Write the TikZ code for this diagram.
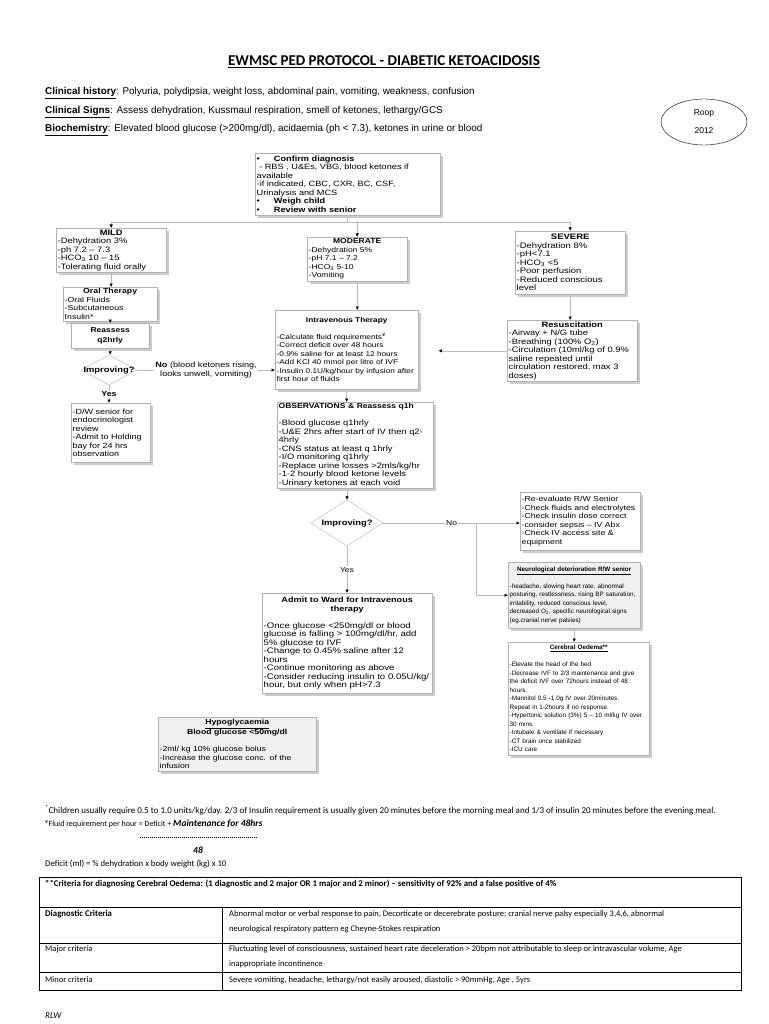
\documentclass[tikz,border=0pt]{standalone}
\usepackage{fontspec}
\setmainfont{Liberation Sans}
\newfontfamily\calfont{Carlito}
\newfontfamily\widesans[FakeStretch=1.2]{Liberation Sans}
\usetikzlibrary{arrows.meta,shapes.geometric,shadows,positioning,calc}
\newcommand{\fs}[1]{\fontsize{#1}{8.5}\selectfont}
\newcommand{\fw}[1]{\widesans\fontsize{#1}{8.5}\selectfont}
\newcommand{\hd}[1]{\makebox[\linewidth]{\textbf{#1}}}

\begin{document}
\begin{tikzpicture}[
    x=1pt, y=-1pt,
    box/.style={rectangle, draw=gray!60, fill=white, anchor=north west,
                drop shadow={shadow xshift=2.5pt, shadow yshift=-2.5pt,
                             fill=gray!40, opacity=1},
                align=left, inner xsep=1.5pt, inner ysep=1.5pt, font=\fw{7.5}},
    greybox/.style={box, fill=gray!12},
    decision/.style={diamond, draw=gray!60, fill=white, aspect=2, inner sep=0pt},
    dtext/.style={font=\fw{7.8}\bfseries, inner sep=0pt},
    line/.style={draw=gray!55, line width=0.6pt},
    arr/.style={line, -{Latex[length=3.5pt, width=3.5pt, color=black]}},
    lbl/.style={fill=white, inner sep=1pt, align=center, font=\fw{7.1}},
    hdr/.style={anchor=west, inner sep=0pt, font=\fontsize{9.9}{11}\selectfont},
    foot/.style={anchor=west, inner sep=0pt, font=\calfont\fontsize{8}{9}\selectfont},
    cell/.style={anchor=north west, inner sep=0pt, align=left,
                 font=\calfont\fontsize{8.5}{15.5}\selectfont}
]
\useasboundingbox (0,0) rectangle (768,1024);

    % Title and clinical summary
    \node[font=\calfont\bfseries\fontsize{15}{17}\selectfont] (title) at (384,62)
        {\underline{EWMSC PED PROTOCOL - DIABETIC KETOACIDOSIS}};
    \node[hdr] (hist) at (45,93) {\textbf{\underline{Clinical history}}: Polyuria, polydipsia, weight loss, abdominal pain, vomiting, weakness, confusion};
    \node[hdr] (signs) at (45,112) {\textbf{\underline{Clinical Signs}}: Assess dehydration, Kussmaul respiration, smell of ketones, lethargy/GCS};
    \node[hdr] (bio) at (45,130) {\textbf{\underline{Biochemistry}}: Elevated blood glucose (>200mg/dl), acidaemia (ph < 7.3), ketones in urine or blood};
    \node[draw, ellipse, minimum width=86pt, minimum height=46pt, align=center,
          font=\fontsize{8.5}{18}\selectfont] (roop) at (704,122) {Roop\\2012};

    % Confirm diagnosis
    \node[box, text width=182pt, minimum height=62pt, font=\fw{7.65}] (diag) at (255,153) {%
        \textbullet\hspace{14pt}\textbf{Confirm diagnosis}\\
        \ - RBS , U\&Es, VBG, blood ketones if\\
        available\\
        -if indicated, CBC, CXR, BC, CSF,\\
        Urinalysis and MCS\\
        \textbullet\hspace{14pt}\textbf{Weigh child}\\
        \textbullet\hspace{14pt}\textbf{Review with senior}};

    % Severity
    \node[box, text width=107pt, minimum height=43pt, font=\fw{7.8}] (mild) at (56,228) {%
        \hd{MILD}\\
        -Dehydration 3\%\\
        -ph 7.2 – 7.3\\
        -HCO\textsubscript{3} 10 – 15\\
        -Tolerating fluid orally};
    \node[box, text width=97pt, minimum height=44pt, font=\fw{7.1}] (mod) at (307,237) {%
        \hd{MODERATE}\\
        -Dehydration 5\%\\
        -pH 7.1 – 7.2\\
        -HCO\textsubscript{3} 5-10\\
        -Vomiting};
    \node[box, text width=107pt, minimum height=63pt, font=\fw{7.9}] (sev) at (515,231) {%
        \hd{SEVERE}\\
        -Dehydration 8\%\\
        -pH<7.1\\
        -HCO\textsubscript{3} <5\\
        -Poor perfusion\\
        -Reduced conscious\\
        level};

    % Mild pathway
    \node[box, text width=91pt, minimum height=33pt, font=\fw{7.3}] (oral) at (63,287) {%
        \hd{Oral Therapy}\\
        -Oral Fluids\\
        -Subcutaneous\\
        Insulin*};
    \node[box, text width=75pt, minimum height=25pt, font=\fw{7.1}] (reass) at (71,323) {%
        \hd{Reassess}\\[1.5pt]
        \hd{q2hrly}};
    \node[decision, minimum width=56pt, minimum height=30pt,
          label={[dtext]center:Improving?}] (imp1) at (109,370) {};
    \node[box, text width=76pt, minimum height=59pt, font=\fw{7.5}] (dw) at (71,403) {%
        -D/W senior for\\
        endocrinologist\\
        review\\
        -Admit to Holding\\
        bay for 24 hrs\\
        observation};

    % Intravenous pathway
    \node[box, text width=140pt, minimum height=79pt, font=\fw{6.9}] (iv) at (275,310) {%
        \hd{Intravenous Therapy}\\[8.5pt]
        -Calculate fluid requirements\textsuperscript{¥}\\
        -Correct deficit over 48 hours\\
        -0.9\% saline for at least 12 hours\\
        -Add KCl 40 mmol per litre of IVF\\
        -Insulin 0.1U/kg/hour by infusion after\\
        first hour of fluids};
    \node[box, text width=127pt, minimum height=56pt, font=\fw{7.8}] (res) at (507,320) {%
        \hd{Resuscitation}\\
        -Airway + N/G tube\\
        -Breathing (100\% O\textsubscript{2})\\
        -Circulation (10ml/kg of 0.9\%\\
        saline repeated until\\
        circulation restored, max 3\\
        doses)};
    \node[box, text width=153pt, minimum height=85pt, font=\fw{7.8}] (obs) at (277,402) {%
        \textbf{\fw{7.1}OBSERVATIONS \& Reassess q1h}\\[8.5pt]
        -Blood glucose q1hrly\\
        -U\&E 2hrs after start of IV then q2-\\
        4hrly\\
        -CNS status at least q 1hrly\\
        -I/O monitoring q1hrly\\
        -Replace urine losses >2mls/kg/hr\\
        -1-2 hourly blood ketone levels\\
        -Urinary ketones at each void};
    \node[decision, minimum width=72pt, minimum height=46pt,
          label={[dtext]center:Improving?}] (imp2) at (347,523) {};
    \node[box, text width=117pt, minimum height=58pt, font=\fw{7.25}] (reev) at (520,492) {%
        -Re-evaluate R/W Senior\\
        -Check fluids and electrolytes\\
        -Check insulin dose correct\\
        -consider sepsis – IV Abx\\
        -Check IV access site \&\\
        equipment};
    \node[greybox, text width=129pt, minimum height=66pt, font=\fs{6.3}] (neuro) at (508,562) {%
        \hd{\underline{Neurological deterioration R/W senior}}\\[8.5pt]
        -headache, slowing heart rate, abnormal\\
        posturing, restlessness, rising BP saturation,\\
        irritability, reduced conscious level,\\
        decreased O\textsubscript{2}, specific neurological signs\\
        (eg.cranial nerve palsies)};
    \node[box, text width=138pt, minimum height=113pt, font=\fs{6.35}] (cer) at (508,642) {%
        \hd{\underline{Cerebral Oedema**}}\\[8.5pt]
        -Elevate the head of the bed\\
        -Decrease IVF to 2/3 maintenance and give\\
        the deficit IVF over 72hours instead of 48\\
        hours.\\
        -Mannitol 0.5 -1.0g IV over 20minutes.\\
        Repeat in 1-2hours if no response.\\
        -Hypertonic solution (3\%) 5 – 10 ml/kg IV over\\
        30 mins\\
        -Intubate \& ventilate if necessary\\
        -CT brain once stabilized\\
        -ICU care};
    \node[box, text width=167pt, minimum height=100pt, font=\fw{8}] (adm) at (262,593) {%
        \hd{\fw{7.6}Admit to Ward for Intravenous}\\
        \hd{\fw{7.6}therapy}\\[8.5pt]
        -Once glucose <250mg/dl or blood\\
        glucose is falling > 100mg/dl/hr, add\\
        5\% glucose to IVF\\
        -Change to 0.45\% saline after 12\\
        hours\\
        -Continue monitoring as above\\
        -Consider reducing insulin to 0.05U/kg/\\
        hour, but only when pH>7.3};
    \node[greybox, text width=155pt, minimum height=54pt, font=\fw{7.25}] (hypo) at (158,717) {%
        \hd{\underline{Hypoglycaemia}}\\
        \hd{Blood glucose <50mg/dl}\\[8.5pt]
        -2ml/ kg 10\% glucose bolus\\
        -Increase the glucose conc. of the\\
        infusion};

    % Connectors
    \coordinate (split) at ($(diag.south)+(0,7)$);
    \draw[line] (diag.south) -- (split);
    \draw[arr] (split) -| (mild.north);
    \draw[arr] (split) -| (mod.north);
    \draw[arr] (split) -| (sev.north);
    \draw[arr] (mild.south) -- (mild.south |- oral.north);
    \draw[arr] (oral.south) -- (oral.south |- reass.north);
    \draw[arr] (reass.south) -- (reass.south |- imp1.north);
    \draw[arr] (imp1.south) -- node[lbl, font=\fw{7.4}\bfseries] {Yes} (imp1.south |- dw.north);
    \draw[arr] (imp1.east) -- node[lbl, font=\fw{7.6}] {\textbf{No} (blood ketones rising,\\looks unwell, vomiting)} (imp1.east -| iv.west);
    \draw[arr] (mod.south) -- (mod.south |- iv.north);
    \draw[arr] (sev.south) -- (sev.south |- res.north);
    \draw[arr, shorten >=20pt] (res.west) -- (res.west -| iv.east);
    \draw[arr] (iv.south) -- (iv.south |- obs.north);
    \draw[arr] (imp2.north |- obs.south) -- (imp2.north);
    \draw[arr] (imp2.south) -- node[lbl] {Yes} (imp2.south |- adm.north);
    \draw[arr] (imp2.east) -- node[lbl] {No} coordinate[pos=0.68] (brk) (imp2.east -| reev.west);
    \draw[arr] (brk) |- (neuro.west);
    \draw[arr] (neuro.south) -- (neuro.south |- cer.north);

    % Footnotes
    \node[foot, font=\calfont\fontsize{9}{10}\selectfont] (fn1) at (45,810) {\textsuperscript{*}Children usually require 0.5 to 1.0 units/kg/day. 2/3 of Insulin requirement is usually given 20 minutes before the morning meal and 1/3 of insulin 20 minutes before the evening meal.};
    \node[foot] (fn2) at (45,824) {\textsuperscript{¥}Fluid requirement per hour = Deficit + {\bfseries\itshape\fontsize{9.5}{10}\selectfont Maintenance for 48hrs}};
    \draw[dash pattern=on 1.2pt off 0.8pt, line width=0.5pt] (140,837) -- (258,837);
    \node[foot, anchor=center, font=\calfont\bfseries\itshape\fontsize{9.5}{10}\selectfont] (den) at (198,850) {48};
    \node[foot, font=\calfont\fontsize{8.7}{10}\selectfont] (fn3) at (45,864) {Deficit (ml) = \% dehydration x body weight (kg) x 10};

    % Criteria table
    \draw[line width=1pt] (39,877) rectangle (741,990);
    \draw[line width=0.6pt] (39,907) -- (741,907)
                            (39,943) -- (741,943)
                            (39,972) -- (741,972)
                            (222,907) -- (222,990);
    \node[cell, font=\calfont\bfseries\fontsize{8.8}{10}\selectfont] (crit) at (45,880) {**Criteria for diagnosing Cerebral Oedema: (1 diagnostic and 2 major OR 1 major and 2 minor) – sensitivity of 92\% and a false positive of 4\%};
    \node[cell, font=\calfont\bfseries\fontsize{8.8}{10}\selectfont] (diagc) at (45,910) {Diagnostic Criteria};
    \node[cell] (diagt) at (229,910) {Abnormal motor or verbal response to pain, Decorticate or decerebrate posture; cranial nerve palsy especially 3,4,6, abnormal\\neurological respiratory pattern eg Cheyne-Stokes respiration};
    \node[cell] (majc) at (45,945) {Major criteria};
    \node[cell] (majt) at (229,945) {Fluctuating level of consciousness, sustained heart rate deceleration > 20bpm not attributable to sleep or intravascular volume, Age\\inappropriate incontinence};
    \node[cell] (minc) at (45,976) {Minor criteria};
    \node[cell] (mint) at (229,976) {Severe vomiting, headache, lethargy/not easily aroused, diastolic > 90mmHg, Age , 5yrs};
    \node[foot, font=\calfont\itshape\fontsize{9}{10}\selectfont] (rlw) at (45,1016) {RLW};
\end{tikzpicture}
\end{document}
